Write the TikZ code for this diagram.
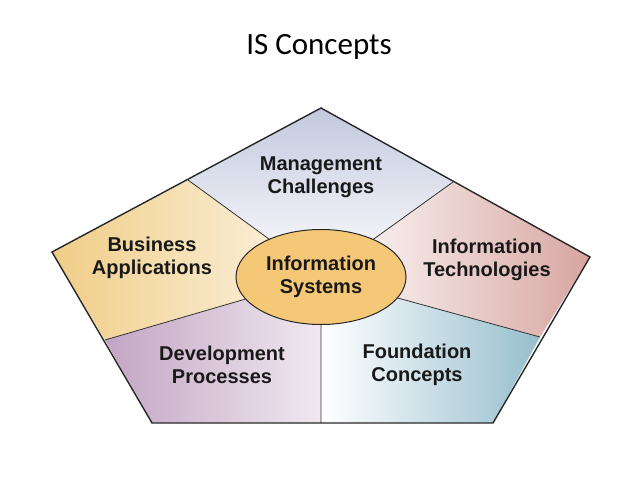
\documentclass[tikz,border=0pt]{standalone}
\usepackage{fontspec}
\usetikzlibrary{shapes.geometric}
\setmainfont{Liberation Sans}
\newfontfamily\titlefont{Carlito}
\definecolor{ellc}{RGB}{245,200,120}
\definecolor{topc}{RGB}{195,200,222}
\definecolor{leftc}{RGB}{240,205,135}
\definecolor{rightc}{RGB}{215,165,160}
\definecolor{blc}{RGB}{195,165,195}
\definecolor{brc}{RGB}{150,190,205}
\begin{document}
\begin{tikzpicture}[x=1pt,y=-1pt,
  lab/.style={font=\bfseries\fontsize{20}{23}\selectfont,align=center,text=black!90},
  sep/.style={draw=black!80,line width=0.8pt}]
\useasboundingbox (0,0) rectangle (638,478);
\coordinate (T) at (321,108);
\coordinate (R) at (590,257);
\coordinate (BR) at (493,423);
\coordinate (BL) at (152,423);
\coordinate (L) at (52,252);
\coordinate (A) at (453,182);
\coordinate (B) at (188,180);
\coordinate (E) at (540,337);
\coordinate (F) at (105,340);
\coordinate (M) at (321,423);
\coordinate (C) at (321,277);
\shade[top color=topc, bottom color=white] (B)--(T)--(A)--(C)--cycle;
\shade[left color=white, right color=rightc] (A)--(R)--(E)--(C)--cycle;
\shade[left color=white, right color=brc] (E)--(BR)--(M)--(C)--cycle;
\shade[left color=blc, right color=blc!25!white] (M)--(BL)--(F)--(C)--cycle;
\shade[left color=leftc, right color=leftc!20!white] (F)--(L)--(B)--(C)--cycle;
\draw[sep] (B)--(C) (A)--(C) (E)--(C) (F)--(C) (M)--(C);
\draw[black!85,line width=1.4pt,line join=miter] (T)--(R)--(BR)--(BL)--(L)--cycle;
\node[ellipse,draw=black!85,line width=1pt,fill=ellc,minimum width=170,minimum height=95,inner sep=0] (is) at (C) {};
\node[lab] at (C) {Information\\Systems};
\node[lab] (mc) at (321,177) {Management\\Challenges};
\node[lab] (ba) at (152,258) {Business\\Applications};
\node[lab] (it) at (487,260) {Information\\Technologies};
\node[lab] (dp) at (222,365) {Development\\Processes};
\node[lab] (fc) at (417,365) {Foundation\\Concepts};
\node[font=\titlefont\fontsize{31}{36}\selectfont] (title) at (319,47) {IS Concepts};
\end{tikzpicture}
\end{document}
